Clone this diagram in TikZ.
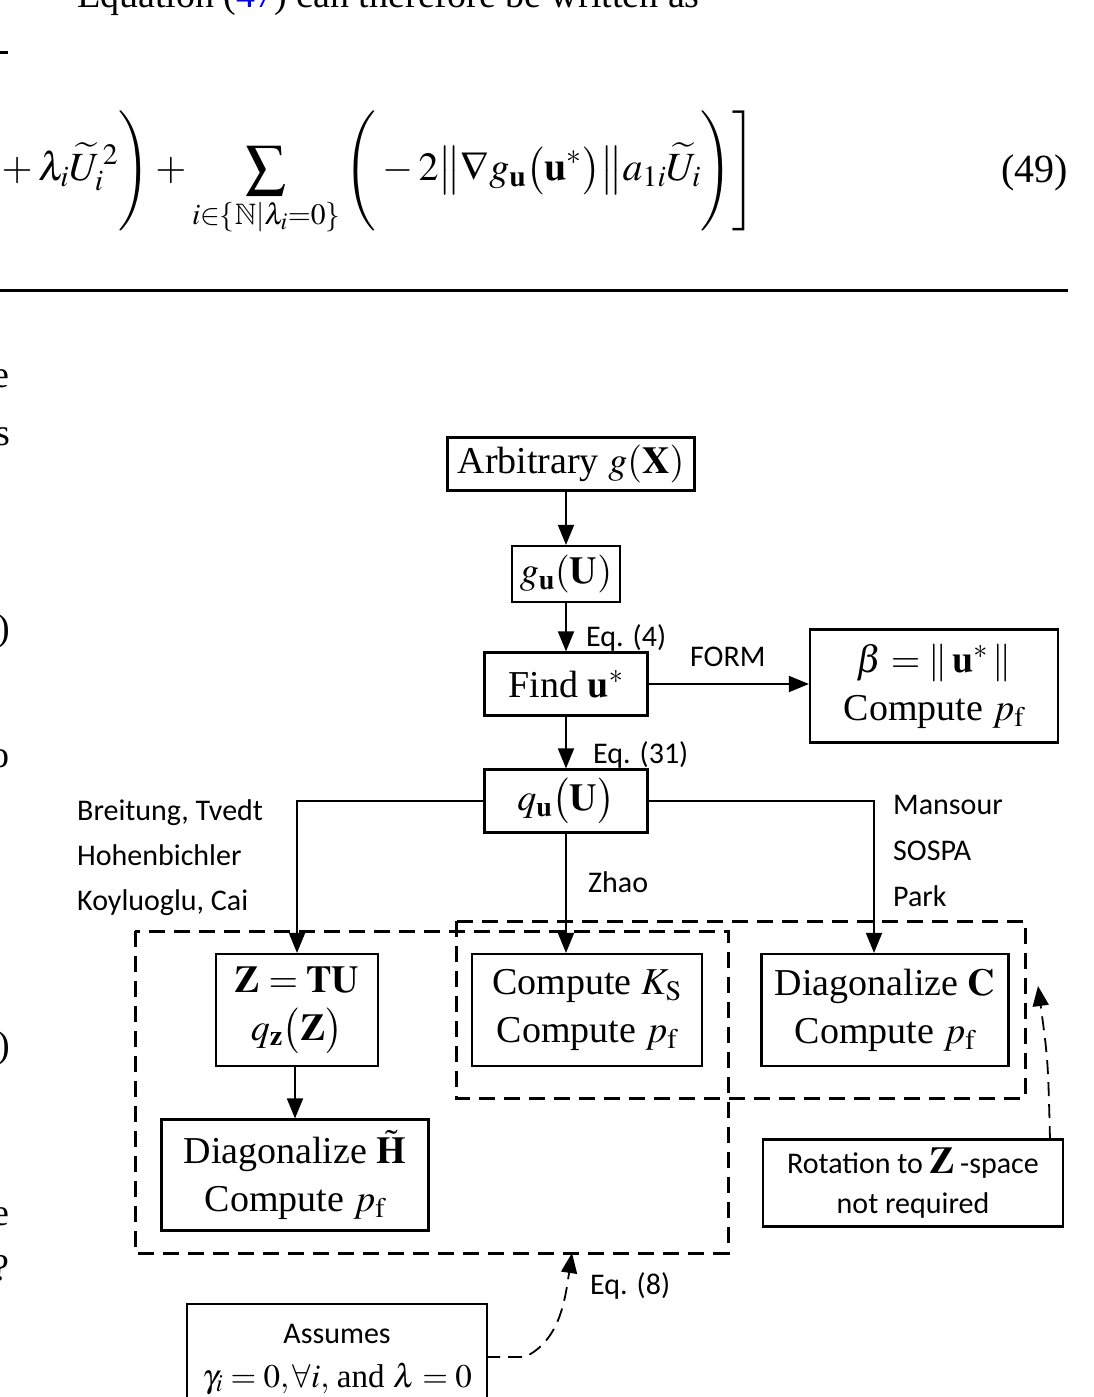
\documentclass[tikz,border=0pt]{standalone}
\usepackage{mathptmx}
\usepackage{amssymb}
\usepackage[no-math]{fontspec}
\setmainfont{Liberation Serif}
\newfontfamily\lblfont{Carlito}
\usetikzlibrary{arrows.meta}
\begin{document}
\begin{tikzpicture}[x=1pt,y=-1pt,
  box/.style={draw,line width=2.2pt,inner sep=0pt,align=center,font=\fontsize{38}{48}\selectfont},
  lbl/.style={font=\lblfont\fontsize{30}{32}\selectfont,inner sep=0pt},
  arr/.style={line width=1.8pt,-{Triangle[length=20pt,width=16pt]}},
  dsh/.style={line width=3pt,dash pattern=on 16pt off 9pt}]
\useasboundingbox (0,0) rectangle (1094,1397);

% page fragments around the figure
\node[anchor=base west,inner sep=0pt,font=\fontsize{38}{40}\selectfont] at (77,8) {Equation (\textcolor{blue}{47}) can therefore be written as};
\draw[line width=3pt] (0,53) -- (8,53);
\node[anchor=east,inner sep=0pt,font=\fontsize{40}{44}\selectfont] (eq) at (756,173)
  {$\displaystyle \widetilde U_i + \lambda_i\widetilde U_i^{\,2}\Bigg) + \sum_{i\in\{\mathbb N|\lambda_i=0\}}\Bigg(-2\big\|\nabla g_{\mathbf u}\big(\mathbf u^{*}\big)\big\|a_{1i}\widetilde U_i\Bigg)\Bigg]$};
\node[anchor=east,inner sep=0pt,font=\fontsize{40}{44}\selectfont] at (1068,173) {(49)};
\draw[line width=3pt] (0,290) -- (1068,290);
\foreach \c/\yy in {e/375,s/433,)/628,o/755,)/1045,e/1213,?/1268}
  \node[anchor=base east,inner sep=0pt,font=\fontsize{38}{40}\selectfont] at (10,\yy+12) {\c};

% boxes
\node[box,minimum width=247pt,minimum height=53pt] (arb) at (571,464) {Arbitrary $g(\mathbf X)$};
\node[box,minimum width=108pt,minimum height=56pt] (gu) at (566,574) {$g_{\mathbf u}(\mathbf U)$};
\node[box,minimum width=163pt,minimum height=63pt] (find) at (566,684) {Find $\mathbf u^{*}$};
\node[box,minimum width=248pt,minimum height=113pt] (beta) at (934,686) {$\beta=\|\,\mathbf u^{*}\,\|$\\Compute $p_{\mathrm f}$};
\node[box,minimum width=163pt,minimum height=63pt] (qu) at (566,801) {$q_{\mathbf u}\big(\mathbf U\big)$};
\node[box,minimum width=162pt,minimum height=112pt] (ztu) at (297,1010) {$\mathbf Z=\mathbf{TU}$\\$q_{\mathbf z}\big(\mathbf Z\big)$};
\node[box,minimum width=230pt,minimum height=112pt] (ks) at (587,1010) {Compute $K_{\mathrm S}$\\Compute $p_{\mathrm f}$};
\node[box,minimum width=247pt,minimum height=112pt] (dc) at (885,1010) {Diagonalize $\mathbf C$\\Compute $p_{\mathrm f}$};
\node[box,minimum width=267pt,minimum height=111pt] (dh) at (295,1175) {Diagonalize $\tilde{\mathbf H}$\\Compute $p_{\mathrm f}$};
\node[box,minimum width=300pt,minimum height=87pt,font=\lblfont\fontsize{30}{40}\selectfont] (rot) at (913,1183) {Rotation to {\fontsize{38}{40}\selectfont$\mathbf Z$}\,-space\\not required};
\node[box,minimum width=300pt,minimum height=110pt,anchor=north west,font=\lblfont\fontsize{30}{44}\selectfont] (ass) at (186,1303) {Assumes\\{\fontsize{33}{40}\selectfont$\gamma_i=0,\forall i,$ \rmfamily and $\lambda=0$}};

% dashed groups
\draw[dsh] (135,931) rectangle (728,1253);
\draw[dsh] (456,921) rectangle (1025,1098);

% connectors
\draw[arr] (arb.south -| gu.north) -- (gu);
\draw[arr] (gu) -- (find);
\draw[arr] (find.east) -- (find.east -| beta.west);
\draw[arr] (find) -- (qu);
\draw[arr] (qu.west) -| (ztu.north);
\draw[arr] (qu) -- (qu.south |- ks.north);
\draw[arr] (qu.east) -| ([xshift=-11pt]dc.north);
\draw[arr] (ztu.south -| dh.north) -- (dh.north);
\coordinate (rt) at (1050,1140);
\coordinate (rh) at (1038,986);
\draw[arr,dash pattern=on 14pt off 8pt] (rt) .. controls (1048,1060) .. (rh);
\coordinate (ae) at (486,1357);
\coordinate (ah) at (572,1253);
\draw[arr,dash pattern=on 14pt off 8pt] (ae) -- (525,1357) .. controls (560,1340) and (565,1300) .. (ah);

% labels
\node[lbl,anchor=west] at (586,638) {Eq. (4)};
\node[lbl,anchor=west] at (690,657) {FORM};
\node[lbl,anchor=west] at (593,755) {Eq. (31)};
\node[lbl,anchor=west] at (588,882) {Zhao};
\node[lbl,anchor=west,align=left,font=\lblfont\fontsize{30}{45}\selectfont] at (77,858) {Breitung, Tvedt\\Hohenbichler\\Koyluoglu, Cai};
\node[lbl,anchor=west,align=left,font=\lblfont\fontsize{30}{46}\selectfont] at (893,851) {Mansour\\SOSPA\\Park};
\node[lbl,anchor=west] at (590,1286) {Eq. (8)};
\end{tikzpicture}
\end{document}
